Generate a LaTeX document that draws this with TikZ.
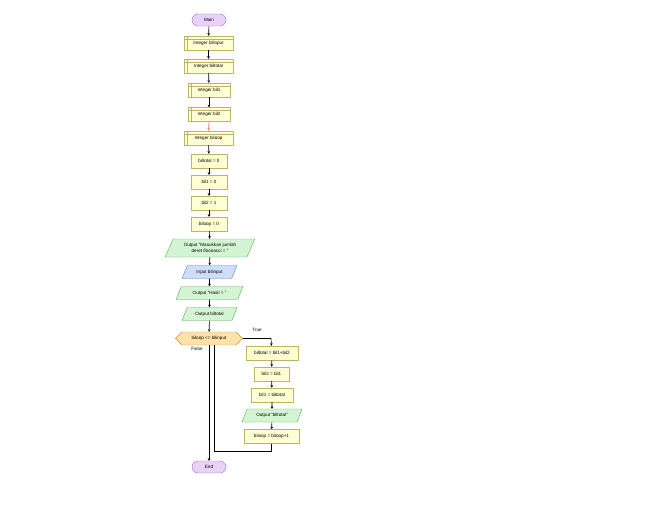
\documentclass[tikz,border=0pt]{standalone}
\usepackage{fontspec}
\setmainfont{Liberation Sans}
\usetikzlibrary{arrows.meta,shapes.geometric,shapes.symbols,shapes.misc}
\definecolor{termfill}{RGB}{233,210,248}
\definecolor{termdraw}{RGB}{160,110,190}
\definecolor{procfill}{RGB}{255,255,212}
\definecolor{procdraw}{RGB}{190,180,100}
\definecolor{outfill}{RGB}{212,245,212}
\definecolor{outdraw}{RGB}{90,170,90}
\definecolor{infill}{RGB}{206,222,250}
\definecolor{indraw}{RGB}{95,125,190}
\definecolor{decfill}{RGB}{255,226,170}
\definecolor{decdraw}{RGB}{200,150,60}
\definecolor{selline}{RGB}{235,120,60}
\tikzset{
	every node/.style={font=\fontsize{4.6}{5.4}\selectfont, inner sep=1pt},
	term/.style={rounded rectangle, draw=termdraw, fill=termfill, minimum width=36pt, minimum height=12pt},
	proc/.style={rectangle, draw=procdraw, fill=procfill, minimum width=36pt, minimum height=14pt},
	decl/.style={proc, path picture={
		\draw[procdraw] ([xshift=3pt]path picture bounding box.north west) -- ([xshift=3pt]path picture bounding box.south west);
		\draw[procdraw] ([yshift=-3pt]path picture bounding box.north west) -- ([yshift=-3pt]path picture bounding box.north east);}},
	outp/.style={trapezium, trapezium left angle=62, trapezium right angle=118, trapezium stretches=true, draw=outdraw, fill=outfill, minimum height=13pt},
	inp/.style={outp, draw=indraw, fill=infill},
	dec/.style={signal, signal to=west and east, draw=decdraw, fill=decfill, minimum width=67pt, minimum height=13pt},
	flow/.style={-{Stealth[length=2.6pt,width=2.6pt]}, line width=0.6pt},
	back/.style={line width=0.6pt},
}
\begin{document}
\begin{tikzpicture}[x=1pt,y=-1pt]
	\useasboundingbox (0,0) rectangle (671,524);
	%%%%% declarations %%%%%
	\node[term] (main) at (209,20) {Main};
	\node[decl, minimum width=49pt] (d1) at (208.5,43) {Integer bilinput};
	\node[decl, minimum width=49pt] (d2) at (208.5,66) {Integer biltotal};
	\node[decl, minimum width=42pt] (d3) at (209,90) {Integer bil1};
	\node[decl, minimum width=42pt] (d4) at (209,114.5) {Integer bil2};
	\node[decl, minimum width=49pt] (d5) at (208.5,138) {Integer biloop};
	%%%%% assignments %%%%%
	\node[proc] (a1) at (209,161) {biltotal = 0};
	\node[proc] (a2) at (209,182) {bil1 = 0};
	\node[proc] (a3) at (209,203) {bil2 = 1};
	\node[proc] (a4) at (209,224) {biloop = 0};
	%%%%% in / out %%%%%
	\node[outp, minimum width=90pt, minimum height=18pt, align=center] (o1) at (210,248) {Output "Masukkan jumlah\\deret fibonacci = "};
	\node[inp, minimum width=55pt] (i1) at (209.5,272) {Input bilinput};
	\node[outp, minimum width=67pt] (o2) at (209.5,293) {Output "Hasil = "};
	\node[outp, minimum width=55pt] (o3) at (209.5,314) {Output biltotal};
	%%%%% loop %%%%%
	\node[dec] (w) at (209,338.5) {biloop <= bilinput};
	\node[proc, minimum width=52pt] (l1) at (272,353) {biltotal = bil1+bil2};
	\node[proc, minimum width=35pt] (l2) at (271.5,374) {bil2 = bil1};
	\node[proc, minimum width=42pt] (l3) at (272,395) {bil1 = biltotal};
	\node[outp, minimum width=60pt] (l4) at (272,415.5) {Output "biltotal"};
	\node[proc, minimum width=55pt] (l5) at (271.5,436.5) {biloop = biloop+1};
	\node[term] (end) at (209,467) {End};
	\coordinate (tr) at (271,338.5);
	\coordinate (br) at (271,451);
	\coordinate (bl) at (214,451);
	\node (tlab) at (257,330) {True};
	\node (flab) at (197,349) {False};
	%%%%% connectors %%%%%
	\draw[flow] (main) -- (d1);
	\draw[flow] (d1) -- (d2);
	\draw[flow] (d2) -- (d3);
	\draw[flow] (d3) -- (d4);
	\draw[flow, selline] (d4) -- (d5);
	\draw[flow] (d5) -- (a1);
	\draw[flow] (a1) -- (a2);
	\draw[flow] (a2) -- (a3);
	\draw[flow] (a3) -- (a4);
	\draw[flow] (a4) -- (o1);
	\draw[flow] (o1) -- (i1);
	\draw[flow] (i1) -- (o2);
	\draw[flow] (o2) -- (o3);
	\draw[flow] (o3) -- (w);
	\draw[flow] (w.east) -- (tr) -- (l1);
	\draw[flow] (l1) -- (l2);
	\draw[flow] (l2) -- (l3);
	\draw[flow] (l3) -- (l4);
	\draw[flow] (l4) -- (l5);
	\draw[back] (l5.south -| br) -- (br) -- (bl) -- (bl |- w.south);
	\draw[flow] (w.south) -- (end.north);
\end{tikzpicture}
\end{document}
